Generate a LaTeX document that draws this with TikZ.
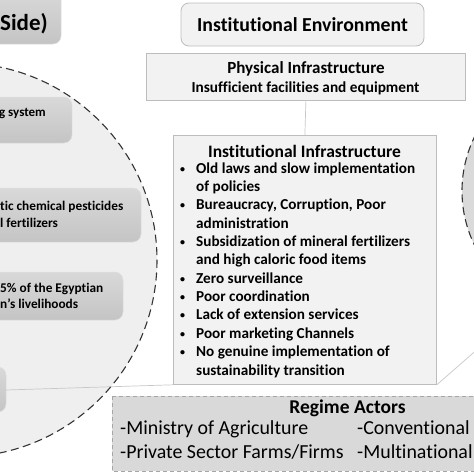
\documentclass[tikz,border=0pt]{standalone}
\usepackage{fontspec}
\setmainfont[Ligatures=NoCommon]{Carlito}
\usetikzlibrary{positioning}

\definecolor{envfill}{HTML}{F2F2F2}
\definecolor{envline}{HTML}{BDBDBD}
\definecolor{circfill}{HTML}{EFEFEF}
\definecolor{rightfill}{HTML}{DADADA}
\definecolor{actfill}{HTML}{D9D9D9}
\definecolor{actline}{HTML}{A6A6A6}
\definecolor{linkgray}{HTML}{C8C8C8}

\newcommand{\bul}{\makebox[16pt][l]{\raisebox{1pt}{\fontsize{10}{10}\selectfont\textbullet}}}
\newcommand{\ind}{\makebox[16pt]{}}

\begin{document}
\begin{tikzpicture}[x=1pt,y=-1pt,
    envbox/.style={draw=envline,fill=envfill,line width=0.8pt,inner sep=0pt},
    sidebox/.style={rounded corners=8pt,top color=gray!30,bottom color=gray!46,draw=gray!25,line width=0.5pt},
    halfcircle/.style={draw=black!80,line width=1.1pt,dash pattern=on 8pt off 4.5pt},
    link/.style={draw=linkgray,line width=0.7pt},
    txt/.style={inner sep=0pt,font=\bfseries}]
  \useasboundingbox (0,0) rectangle (474,474);
  \clip (0,0) rectangle (474,474);

  % left side circle and its boxes
  \draw[halfcircle,fill=circfill] (-40,260) circle (197);
  \draw[sidebox] (-60,-10) rectangle (61,44);
  \node[txt,anchor=east,font=\bfseries\fontsize{23}{26}\selectfont] (side) at (48,24) {l Side)};
  \draw[sidebox] (-60,97) rectangle (72,143);
  \node[txt,anchor=east,font=\bfseries\fontsize{13}{16}\selectfont] (farm) at (46,113) {g system};
  \draw[sidebox] (-60,188) rectangle (141,242);
  \node[txt,anchor=west,align=left,font=\bfseries\fontsize{13.3}{17}\selectfont] (chem) at (0,214) {tic chemical pesticides\\l fertilizers};
  \draw[sidebox] (-60,272) rectangle (123,320);
  \node[txt,anchor=west,align=left,font=\bfseries\fontsize{13.3}{16}\selectfont] (liveli) at (0,296) {5\% of the Egyptian\\n’s livelihoods};
  \draw[sidebox] (-60,367) rectangle (6,412);
  \coordinate (sideD) at (6,390);

  % institutional environment
  \draw[envbox,rounded corners=8pt] (181,3) rectangle (424,46);
  \node[txt,font=\bfseries\fontsize{19.8}{22}\selectfont] (instenv) at (302.5,25) {Institutional Environment};

  \node[envbox,anchor=north west,minimum width=319pt,minimum height=47pt] (phys) at (146,53) {};
  \node[txt,font=\bfseries\fontsize{17}{18}\selectfont] (phystitle) at (306,69) {Physical Infrastructure};
  \node[txt,font=\bfseries\fontsize{15.3}{16}\selectfont] (physitem) at (305.5,88) {Insufficient facilities and equipment};

  \node[envbox,anchor=north west,minimum width=263pt,minimum height=249pt] (instbox) at (173,135) {};
  \node[txt,font=\bfseries\fontsize{17.5}{19}\selectfont] (insttitle) at (304.5,151) {Institutional Infrastructure};
  \node[txt,anchor=base west,align=left,font=\bfseries\fontsize{15.2}{18.36}\selectfont] (instlist) at (180,375) {%
    \bul Old laws and slow implementation\\
    \ind of policies\\
    \bul Bureaucracy, Corruption, Poor\\
    \ind administration\\
    \bul Subsidization of mineral fertilizers\\
    \ind and high caloric food items\\
    \bul Zero surveillance\\
    \bul Poor coordination\\
    \bul Lack of extension services\\
    \bul Poor marketing Channels\\
    \bul No genuine implementation of\\
    \ind sustainability transition};

  \draw[link] (phys.south) -- (instbox.north);
  \draw[link] (sideD) -- (instbox.south west);
  \coordinate (rightend) at (480,347);
  \draw[link] (instbox.south east) -- (rightend);

  % right side circle
  \draw[halfcircle,fill=rightfill] (585,191) circle (123);

  % regime actors
  \draw[draw=actline,fill=actfill,line width=0.9pt,dash pattern=on 4pt off 3pt] (112,396) rectangle (620,471);
  \node[txt,font=\bfseries\fontsize{19.5}{20}\selectfont] (regime) at (347.5,408) {Regime Actors};
  \node[inner sep=0pt,anchor=west,align=left,font=\fontsize{19.9}{24}\selectfont] (actleft) at (120,440) {-Ministry of Agriculture\\-Private Sector Farms/Firms};
  \node[inner sep=0pt,anchor=west,align=left,font=\fontsize{19.9}{24}\selectfont] (actright) at (357,440) {-Conventional\\-Multinational};
\end{tikzpicture}
\end{document}
